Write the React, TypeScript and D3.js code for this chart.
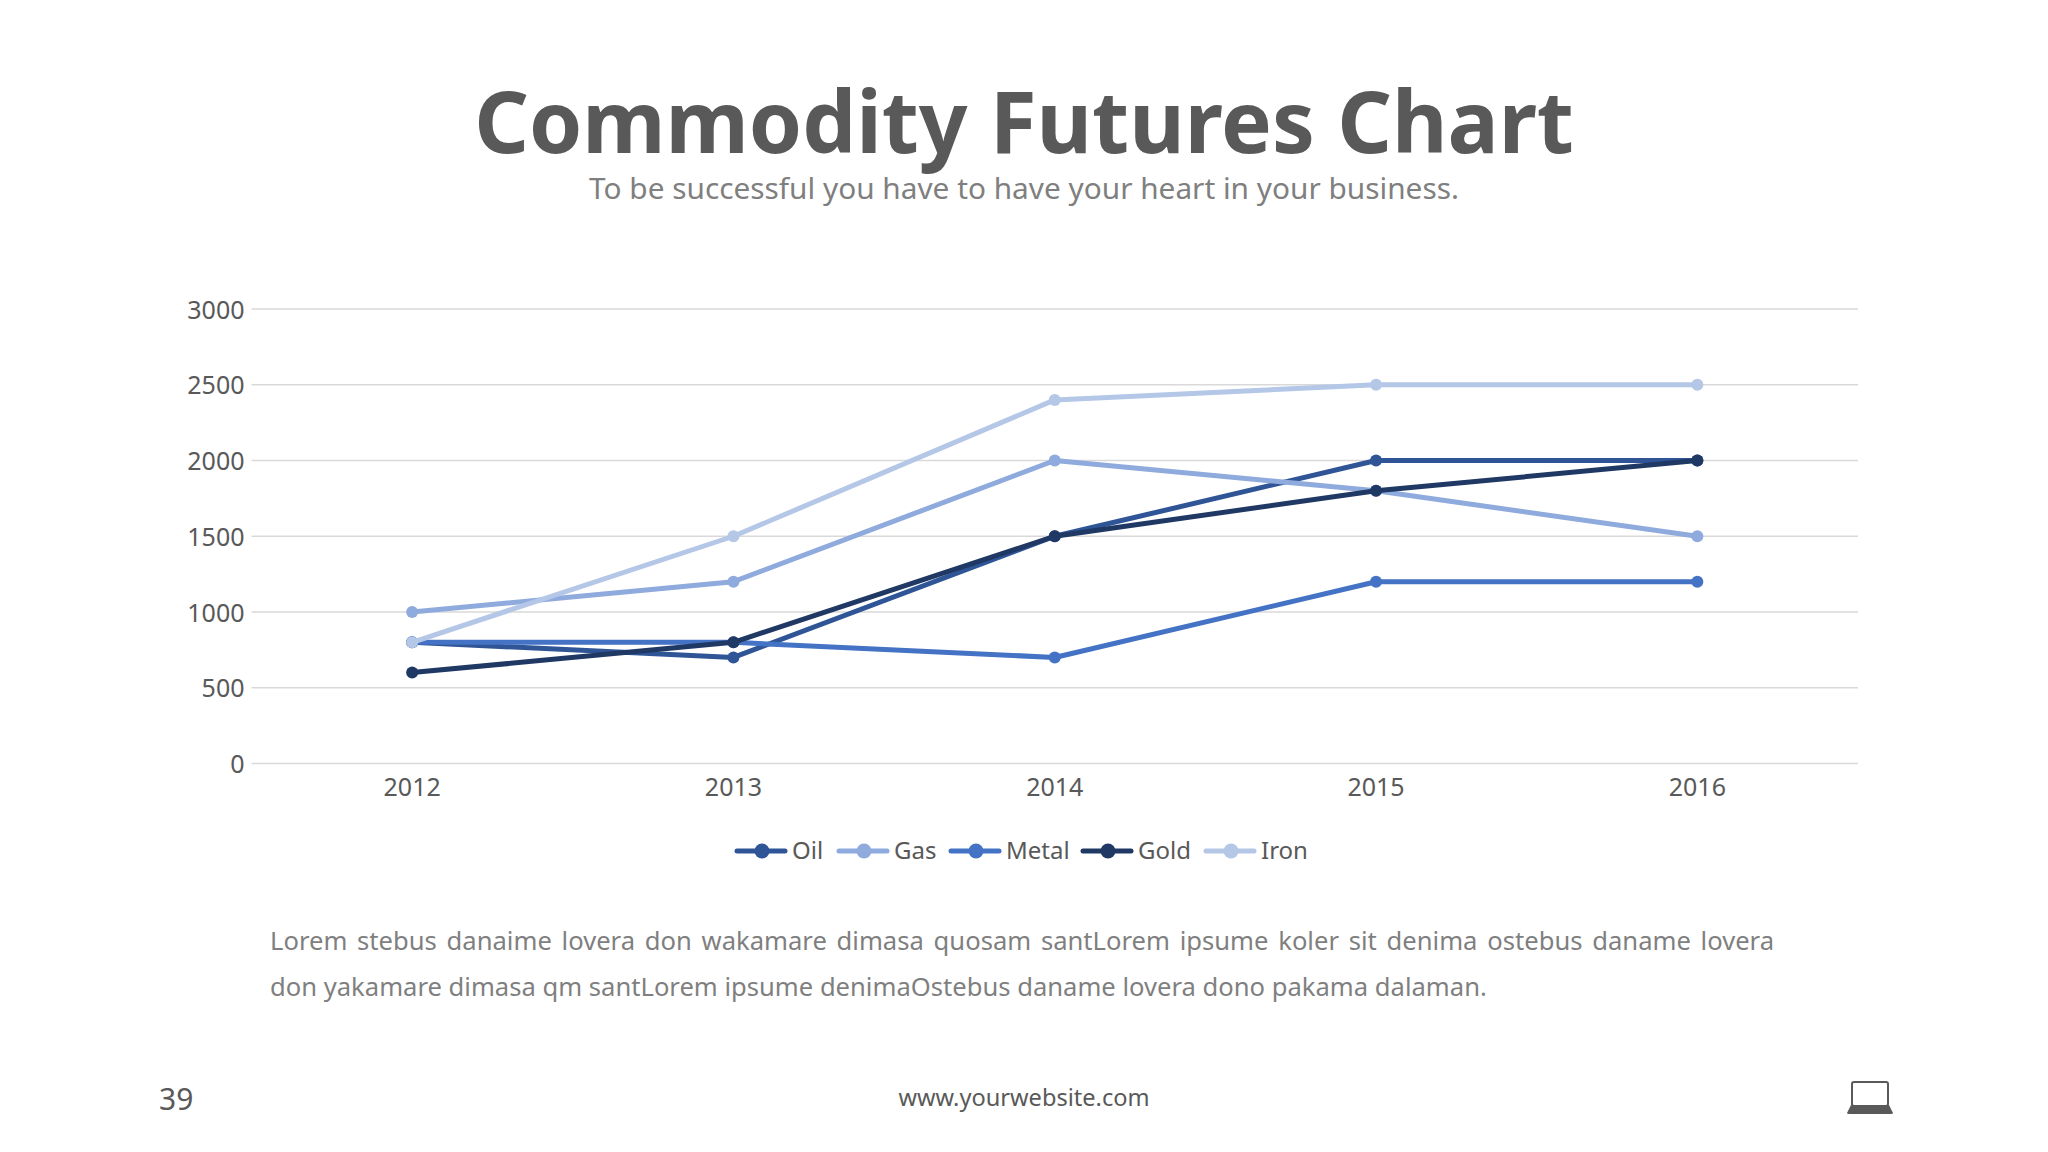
// App.tsx
import React, { useEffect, useRef } from "react";
import * as d3 from "d3";

const years = ["2012", "2013", "2014", "2015", "2016"];
const oil = [800, 700, 1500, 2000, 2000];
const gas = [1000, 1200, 2000, 1800, 1500];
const metal = [800, 800, 700, 1200, 1200];
const gold = [600, 800, 1500, 1800, 2000];
const iron = [800, 1500, 2400, 2500, 2500];
const yTicks = [0, 500, 1000, 1500, 2000, 2500, 3000];

const seriesNames = ["Oil", "Gas", "Metal", "Gold", "Iron"];
const seriesValues = [oil, gas, metal, gold, iron];
const seriesColors = ["#2f5597", "#8faadc", "#4472c4", "#1f3864", "#b4c7e7"];
const legendX = [737, 839, 951, 1083, 1206];

const font = "'Noto Sans', sans-serif";

const App: React.FC = () => {
  const ref = useRef<SVGSVGElement | null>(null);

  useEffect(() => {
    const svg = d3.select(ref.current);
    svg.selectAll("*").remove();

    const left = 251.5;
    const right = 1858;
    const top = 309;
    const bottom = 763.5;

    const x = d3.scaleBand().domain(years).range([left, right]);
    const y = d3.scaleLinear().domain([0, 3000]).range([bottom, top]);
    const cx = (i: number) => (x(years[i]) as number) + x.bandwidth() / 2;

    svg
      .append("g")
      .selectAll("line")
      .data(yTicks)
      .enter()
      .append("line")
      .attr("x1", left)
      .attr("x2", right)
      .attr("y1", (d) => y(d))
      .attr("y2", (d) => y(d))
      .attr("stroke", "#d9d9d9")
      .attr("stroke-width", 1.6);

    const axisY = svg
      .append("g")
      .attr("transform", `translate(${left}, 1)`)
      .call(d3.axisLeft(y).tickValues(yTicks).tickSize(0).tickPadding(7).tickFormat(d3.format("d")));
    axisY.select(".domain").remove();
    axisY
      .selectAll("text")
      .attr("fill", "#595959")
      .style("font-family", font)
      .style("font-size", "25px");

    const axisX = svg
      .append("g")
      .attr("transform", `translate(0, ${bottom})`)
      .call(d3.axisBottom(x).tickSize(0).tickPadding(15));
    axisX.select(".domain").remove();
    axisX
      .selectAll("text")
      .attr("fill", "#595959")
      .style("font-family", font)
      .style("font-size", "25px");

    const line = d3
      .line<number>()
      .x((d, i) => cx(i))
      .y((d) => y(d));

    seriesValues.forEach((values, s) => {
      svg
        .append("path")
        .datum(values)
        .attr("fill", "none")
        .attr("stroke", seriesColors[s])
        .attr("stroke-width", 5)
        .attr("stroke-linecap", "round")
        .attr("stroke-linejoin", "round")
        .attr("d", line);
      svg
        .append("g")
        .selectAll("circle")
        .data(values)
        .enter()
        .append("circle")
        .attr("cx", (d, i) => cx(i))
        .attr("cy", (d) => y(d))
        .attr("r", 6)
        .attr("fill", seriesColors[s]);
    });

    // legend
    const legendY = 851;
    seriesNames.forEach((name, s) => {
      const lx = legendX[s];
      const g = svg.append("g");
      g.append("line")
        .attr("x1", lx)
        .attr("x2", lx + 48)
        .attr("y1", legendY)
        .attr("y2", legendY)
        .attr("stroke", seriesColors[s])
        .attr("stroke-width", 5)
        .attr("stroke-linecap", "round");
      g.append("circle")
        .attr("cx", lx + 25)
        .attr("cy", legendY)
        .attr("r", 7.5)
        .attr("fill", seriesColors[s]);
      g.append("text")
        .attr("x", lx + 55)
        .attr("y", legendY + 8)
        .attr("fill", "#595959")
        .style("font-family", font)
        .style("font-size", "24px")
        .text(name);
    });

    const addText = (
      str: string,
      tx: number,
      ty: number,
      size: number,
      color: string,
      anchor: string,
      weight = 400,
      wordSpacing = 0
    ) =>
      svg
        .append("text")
        .attr("x", tx)
        .attr("y", ty)
        .attr("fill", color)
        .attr("text-anchor", anchor)
        .style("font-family", font)
        .style("font-size", `${size}px`)
        .style("font-weight", weight)
        .style("word-spacing", `${wordSpacing}px`)
        .text(str);

    addText("Commodity Futures Chart", 1024, 153, 85.4, "#595959", "middle", 700);
    addText("To be successful you have to have your heart in your business.", 1024, 199, 29.8, "#7f7f7f", "middle");
    addText(
      "Lorem stebus danaime lovera don wakamare dimasa quosam santLorem ipsume koler sit denima ostebus daname lovera",
      270,
      950,
      25.6,
      "#7f7f7f",
      "start",
      400,
      3.1
    );
    addText(
      "don yakamare dimasa qm santLorem ipsume denimaOstebus daname lovera dono pakama dalaman.",
      270,
      996,
      25.6,
      "#7f7f7f",
      "start"
    );
    addText("39", 159, 1110, 30, "#595959", "start");
    addText("www.yourwebsite.com", 1024, 1106, 23.6, "#595959", "middle");

    // laptop icon
    const icon = svg.append("g").attr("transform", "translate(1847, 1080)").attr("fill", "#595959");
    icon
      .append("rect")
      .attr("x", 5)
      .attr("y", 2)
      .attr("width", 36)
      .attr("height", 24)
      .attr("rx", 2)
      .attr("fill", "none")
      .attr("stroke", "#595959")
      .attr("stroke-width", 2);
    icon.append("path").attr("d", "M4 25 L42 25 L46 33 Q46 34 44 34 L2 34 Q0 34 0 33 Z");
  }, []);

  return (
    <svg
      ref={ref}
      width={2048}
      height={1152}
      style={{ position: "absolute", left: 0, top: 0, background: "#fff" }}
    ></svg>
  );
};

export default App;
